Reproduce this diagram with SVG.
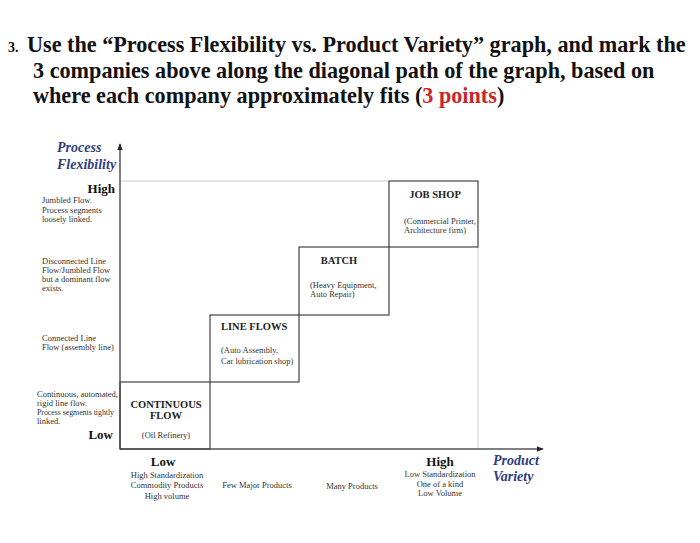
<svg xmlns="http://www.w3.org/2000/svg" width="700" height="543" viewBox="0 0 700 543">
<style>
.t{font-family:"Liberation Serif","Times New Roman",serif;font-weight:bold;font-size:22.2px;fill:#111}
.s{font-family:"Liberation Serif","Times New Roman",serif;font-size:8.5px;fill:#333}
.h{font-family:"Liberation Serif","Times New Roman",serif;font-weight:bold;font-size:13px;fill:#111}
.bx{font-family:"Liberation Serif","Times New Roman",serif;font-weight:bold;font-size:10.5px;fill:#222}
.ax{font-family:"Liberation Serif","Times New Roman",serif;font-weight:bold;font-style:italic;font-size:14px;fill:#2e3d80}
.box{fill:none;stroke:#444;stroke-width:1.2}
.axis{stroke:#555;stroke-width:1.5;fill:none}
.grid{stroke:#ccc;stroke-width:1;fill:none}
</style>
<defs>
<marker id="arr" viewBox="0 0 10 10" refX="9" refY="5" markerWidth="7" markerHeight="7" orient="auto" markerUnits="userSpaceOnUse">
<path d="M0,1 L10,5 L0,9 z" fill="#222"/>
</marker>
</defs>

<g id="title">
<text x="8" y="52" class="t" style="font-size:14px">3.</text>
<text x="27" y="52" class="t">Use the “Process Flexibility vs. Product Variety” graph, and mark the</text>
<text x="33" y="78" class="t">3 companies above along the diagonal path of the graph, based on</text>
<text x="33" y="103" class="t">where each company approximately fits (<tspan fill="#c8262c">3 points</tspan>)</text>
</g>

<g id="connectors">
<line class="grid" x1="120" y1="181" x2="389" y2="181"/>
<line class="grid" x1="478" y1="247" x2="478" y2="449"/>
<line class="axis" x1="120" y1="449" x2="120" y2="144" marker-end="url(#arr)"/>
<line class="axis" x1="120" y1="449" x2="543" y2="449" marker-end="url(#arr)"/>
</g>

<g id="y-axis-labels">
<text x="57" y="152" class="ax">Process</text>
<text x="57" y="169" class="ax">Flexibility</text>
<text x="115" y="193" class="h" text-anchor="end">High</text>
<text class="s"><tspan x="42" y="203">Jumbled Flow.</tspan><tspan x="42" y="213">Process segments</tspan><tspan x="42" y="222">loosely linked.</tspan></text>
<text class="s"><tspan x="42" y="264">Disconnected Line</tspan><tspan x="42" y="273">Flow/Jumbled Flow</tspan><tspan x="42" y="282">but a dominant flow</tspan><tspan x="42" y="291">exists.</tspan></text>
<text class="s"><tspan x="42" y="341">Connected Line</tspan><tspan x="42" y="350">Flow (assembly line)</tspan></text>
<text class="s"><tspan x="37" y="397">Continuous, automated,</tspan><tspan x="37" y="406">rigid  line flow.</tspan></text>
<text x="37" y="415" class="s" textLength="77" lengthAdjust="spacingAndGlyphs">Process segments tightly</text>
<text x="37" y="424" class="s">linked.</text>
<text x="113" y="439" class="h" text-anchor="end">Low</text>
</g>

<g id="job-shop">
<rect class="box" x="389" y="181" width="89" height="66"/>
<text x="435" y="198" class="bx" text-anchor="middle">JOB SHOP</text>
<text class="s"><tspan x="404" y="224">(Commercial  Printer,</tspan><tspan x="404" y="233">Architecture firm)</tspan></text>
</g>

<g id="batch">
<rect class="box" x="299" y="247" width="90" height="68"/>
<text x="339" y="264" class="bx" text-anchor="middle">BATCH</text>
<text class="s"><tspan x="310" y="288">(Heavy Equipment,</tspan><tspan x="310" y="297">Auto Repair)</tspan></text>
</g>

<g id="line-flows">
<rect class="box" x="210" y="315" width="89" height="67"/>
<text x="221" y="330" class="bx">LINE FLOWS</text>
<text class="s"><tspan x="221" y="353">(Auto Assembly,</tspan><tspan x="221" y="364">Car lubrication  shop)</tspan></text>
</g>

<g id="continuous-flow">
<rect class="box" x="120" y="382" width="90" height="67"/>
<text x="166" y="408" class="bx" text-anchor="middle">CONTINUOUS</text>
<text x="166" y="419" class="bx" text-anchor="middle">FLOW</text>
<text x="166" y="438" class="s" text-anchor="middle">(Oil Refinery)</text>
</g>

<g id="x-axis-labels">
<text x="163" y="466" class="h" text-anchor="middle">Low</text>
<text class="s" text-anchor="middle"><tspan x="167" y="478">High Standardization</tspan><tspan x="167" y="488">Commodity Products</tspan><tspan x="167" y="499">High volume</tspan></text>
<text x="257" y="488" class="s" text-anchor="middle">Few Major Products</text>
<text x="352" y="489" class="s" text-anchor="middle">Many Products</text>
<text x="440" y="466" class="h" text-anchor="middle">High</text>
<text class="s" text-anchor="middle"><tspan x="440" y="477">Low Standardization</tspan><tspan x="440" y="487">One of a kind</tspan><tspan x="440" y="496">Low Volume</tspan></text>
<text x="493" y="465" class="ax">Product</text>
<text x="493" y="481" class="ax">Variety</text>
</g>
</svg>
